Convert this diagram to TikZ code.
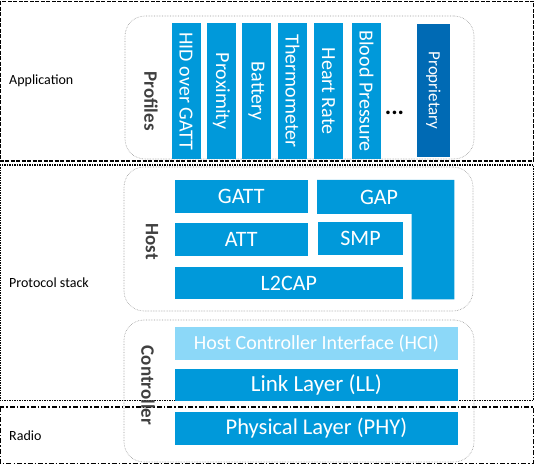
\documentclass[tikz,border=0pt]{standalone}
\usepackage{fontspec}
\setmainfont{Carlito}
\usetikzlibrary{positioning}

\definecolor{bleblue}{HTML}{0099DA}
\definecolor{blelight}{HTML}{8CD8F8}
\definecolor{bledark}{HTML}{006AB4}
\definecolor{labelgray}{HTML}{404040}

\begin{document}
\begin{tikzpicture}[x=1pt,y=-1pt,
    layer/.style={draw=black,line width=1.3pt},
    group/.style={draw=gray!80,densely dotted,line width=0.6pt,rounded corners=20pt,inner sep=0pt},
    block/.style={fill=bleblue,text=white,inner sep=0pt,font=\fontsize{22}{26}\selectfont},
    profile/.style={block,rotate=-90,minimum width=135.5,minimum height=29,font=\fontsize{20}{24}\selectfont},
    grouplabel/.style={rotate=-90,text=labelgray,inner sep=0pt,font=\bfseries\fontsize{19}{22}\selectfont},
    regionlabel/.style={anchor=west,inner sep=0pt,font=\fontsize{14}{17}\selectfont}]

        \useasboundingbox (0,0) rectangle (542,465);

        % regions
        \draw[layer,dash pattern=on 4pt off 1.5pt] (0,1.2) rectangle (533.5,161);
        \draw[layer,dash pattern=on 1.5pt off 1pt] (0,165) rectangle (533.5,400.7);
        \draw[layer,dash pattern=on 5pt off 2pt on 1.5pt off 2pt] (0,407) rectangle (533.5,463.5);

        \node[regionlabel] (application) at (9,81) {Application};
        \node[regionlabel] (protocol) at (9,283) {Protocol stack};
        \node[regionlabel] (radio) at (9,436) {Radio};

        % groups
        \node[group,minimum width=349,minimum height=143] (profiles) at (299.5,87.5) {};
        \node[group,minimum width=349,minimum height=144] (host) at (298.5,239) {};
        \node[group,minimum width=350,minimum height=142] (controller) at (299,391) {};

        \node[grouplabel] (profileslabel) at (151,101) {Profiles};
        \node[grouplabel] (hostlabel) at (152,241.5) {Host};
        \node[grouplabel] (controllerlabel) at (148,385.5) {Controller};

        % profiles
        \begin{scope}[every node/.style={profile}]
            \node (hid) at (186,91.2) {HID over GATT};
            \node (proximity) at (221.5,91.2) {Proximity};
            \node (battery) at (256.5,91.2) {Battery};
            \node (thermometer) at (292.5,91.2) {Thermometer};
            \node (heartrate) at (328.5,91.2) {Heart Rate};
            \node (bloodpressure) at (366.5,91.2) {Blood Pressure};
            \node[fill=bledark,minimum width=132.4,minimum height=33.3,
                font=\fontsize{17}{20}\selectfont] (proprietary) at (433.3,90.5) {Proprietary};
        \end{scope}
        \node[inner sep=0pt,font=\bfseries\fontsize{24}{28}\selectfont] (dots) at (394.5,112.7) {...};

        % host
        \fill[bleblue] (317,180) -- (454.3,180) -- (454.3,299.3) -- (411.7,299.3)
            -- (411.7,214) -- (317,214) -- cycle;
        \begin{scope}[every node/.style={block}]
            \node[minimum width=132.7,minimum height=32.7] (gatt) at (241.3,196.3) {GATT};
            \node[fill=none] (gap) at (379,197) {GAP};
            \node[minimum width=132.7,minimum height=33] (att) at (241.3,239.2) {ATT};
            \node[minimum width=84.4,minimum height=32.7] (smp) at (360.5,238.3) {SMP};
            \node[minimum width=227.7,minimum height=32.3] (l2cap) at (288.8,283.2) {L2CAP};
        \end{scope}

        % controller
        \begin{scope}[every node/.style={block,minimum width=282.7}]
            \node[fill=blelight,minimum height=32.7,font=\fontsize{20}{24}\selectfont] (hci) at (316.4,343.4) {Host Controller Interface (HCI)};
            \node[minimum height=31.7,font=\fontsize{23}{27}\selectfont] (ll) at (316.4,384.9) {Link Layer (LL)};
            \node[minimum height=32.7,font=\fontsize{22.5}{27}\selectfont] (phy) at (316.4,428.4) {Physical Layer (PHY)};
        \end{scope}
    \end{tikzpicture}
\end{document}
